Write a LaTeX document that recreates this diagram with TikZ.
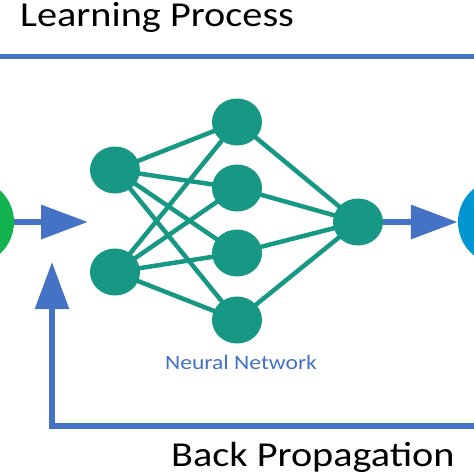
\documentclass[tikz,border=0pt]{standalone}
\usepackage{fontspec}
\usepackage{xcolor}
\setmainfont{Carlito}
\newfontfamily\lblfont[FakeStretch=1.15]{Carlito}
\usetikzlibrary{arrows.meta,shapes.geometric,positioning}

\definecolor{nnteal}{RGB}{22,152,132}
\definecolor{flowblue}{RGB}{68,114,196}
\definecolor{ingreen}{RGB}{18,178,78}
\definecolor{outblue}{RGB}{0,150,210}

\begin{document}
\begin{tikzpicture}[
    x=1pt, y=-1pt,
    neuron/.style={ellipse, fill=nnteal, minimum width=50pt, minimum height=47pt, inner sep=0pt},
    link/.style={draw=nnteal, line width=4.5pt},
    flow/.style={draw=flowblue, line width=6.5pt, -{Triangle[length=47pt,width=33pt]}},
    loopline/.style={draw=flowblue, line width=5.5pt},
    blob/.style={circle, minimum size=86pt, inner sep=0pt}
]
\useasboundingbox (0,0) rectangle (474,474);
\clip (0,0) rectangle (474,474);

% Input and output data
\node[blob, fill=ingreen] (src) at (-29,222) {};
\node[blob, fill=outblue] (dst) at (501,222) {};

% Input layer
\node[neuron] (i1) at (115,170) {};
\node[neuron] (i2) at (115,272) {};

% Hidden layer
\node[neuron] (h1) at (237,122) {};
\node[neuron] (h2) at (237,188) {};
\node[neuron] (h3) at (237,253) {};
\node[neuron] (h4) at (237,320) {};

% Output layer
\node[neuron] (o1) at (358,222) {};

% Connections
\foreach \i in {i1,i2}
  \foreach \h in {h1,h2,h3,h4}
    \draw[link] (\i.center) -- (\h.center);
\foreach \h in {h1,h2,h3,h4}
  \draw[link] (\h.center) -- (o1.center);

% Data flow
\coordinate (nnin) at (88,222);
\draw[flow] (src.east) -- (nnin);
\draw[flow] (o1.east) -- (dst.west);

% Learning loop
\coordinate (tl) at (0,56.5);
\coordinate (tr) at (474,56.5);
\coordinate (br) at (480,426);
\coordinate (bl) at (52,426);
\coordinate (fbin) at (52,262);
\draw[loopline] (tl) -- (tr);
\draw[flow, line width=5.5pt] (br) -- (bl) -- (fbin);

% Labels
\node[font=\lblfont\fontsize{35}{40}\selectfont, anchor=base west, inner sep=0pt] (lp) at (20,26) {Learning Process};
\node[font=\lblfont\fontsize{35}{40}\selectfont, anchor=base west, inner sep=0pt] (bp) at (171,466) {Back Propagation};
\node[font=\lblfont\fontsize{20.5}{24}\selectfont, text=flowblue, anchor=base, inner sep=0pt] (nn) at (241,369) {Neural Network};

\end{tikzpicture}
\end{document}
